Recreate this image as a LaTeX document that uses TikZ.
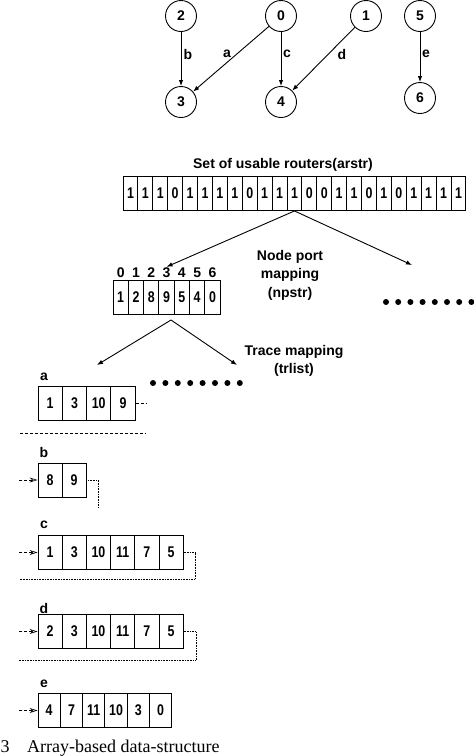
\documentclass[tikz,border=0pt]{standalone}
\usepackage{fontspec}
\setmainfont{Liberation Sans}
\newfontfamily\capfont{Liberation Serif}
\newfontfamily\cellfont{Liberation Sans}[FakeStretch=0.8]
\usetikzlibrary{arrows.meta}

\tikzset{
  cell/.style={draw, line width=0.9pt, inner sep=0pt, minimum height=34pt,
    font=\cellfont\bfseries\fontsize{15.5}{18.5}\selectfont},
  vtx/.style={draw, circle, line width=0.9pt, minimum size=31pt, inner sep=0pt,
    font=\bfseries\fontsize{14}{18.5}\selectfont},
  lbl/.style={inner sep=1pt, font=\bfseries\fontsize{14}{18.5}\selectfont},
  edge/.style={->, line width=0.9pt},
  ptr/.style={densely dashed, line width=0.6pt, -{Stealth[open, length=8pt, width=5pt]}},
  link/.style={densely dotted, line width=0.6pt},
}
\newcommand{\cellrow}[5]{%
  \foreach \v [count=\i] in {#5}
    \node[cell, minimum width=#4pt] (#1\i) at ({#2+(\i-0.5)*#4}, #3) {\v};}

\begin{document}
\begin{tikzpicture}[x=1pt, y=-1pt, >={Latex[length=6pt, width=4.5pt]}]
    \useasboundingbox (0,0) rectangle (474,756);
    % trace graph
    \node[vtx] (v2) at (181,16) {2};
    \node[vtx] (v0) at (281,16) {0};
    \node[vtx] (v1) at (366,16) {1};
    \node[vtx] (v5) at (420,16) {5};
    \node[vtx] (v3) at (181,102) {3};
    \node[vtx] (v4) at (281,102) {4};
    \node[vtx] (v6) at (420,98) {6};
    \draw[edge] (v0) -- (v3);
    \draw[edge] (v2) -- (v3);
    \draw[edge] (v0) -- (v4);
    \draw[edge] (v1) -- (v4);
    \draw[edge] (v5) -- (v6);
    \node[lbl] (ea) at (227,54) {a};
    \node[lbl] (eb) at (188,54) {b};
    \node[lbl] (ec) at (287,54) {c};
    \node[lbl] (ed) at (342,54) {d};
    \node[lbl] (ee) at (426,54) {e};
    % arstr
    \node[lbl] (title) at (283,165) {Set of usable routers(arstr)};
    \cellrow{ar}{123}{193.5}{14.91}{1,1,1,0,1,1,1,1,0,1,1,1,0,0,1,1,0,1,0,1,1,1,1}
    % npstr
    \foreach \k [count=\i] in {0,...,6}
      \node[lbl] (i\i) at ({113+(\i-0.5)*15.3},273) {\k};
    \cellrow{np}{113}{297}{15.3}{1,2,8,9,5,4,0}
    \node[lbl, align=center] (nplbl) at (290,275) {Node port\\mapping\\(npstr)};
    \coordinate (more1) at (412,265);
    \draw[edge] (ar12.south) -- (i4.north);
    \draw[edge] (ar12.south) -- (more1);
    \foreach \k in {0,...,7}
      \fill (386+\k*12.2,302) circle (3pt);
    % trlist
    \coordinate (npfork) at (171,320);
    \coordinate (trpick) at (97,365);
    \coordinate (trmore) at (237,365);
    \draw[edge] (npfork) -- (trpick);
    \draw[edge] (npfork) -- (trmore);
    \node[lbl, align=center] (trlbl) at (294,361) {Trace mapping\\(trlist)};
    \foreach \k in {0,...,7}
      \fill (153+\k*12.4,383) circle (3pt);
    % trace a
    \node[lbl] (ta) at (44,377) {a};
    \cellrow{a}{38}{403.5}{24.3}{1,3,10,9}
    \coordinate (aend) at (147,403.5);
    \draw[densely dashed, line width=0.6pt] (a4.east) -- (aend);
    \coordinate (ret1) at (20,433);
    \coordinate (ret2) at (146,433);
    \draw[densely dashed, line width=0.6pt] (ret1) -- (ret2);
    % trace b
    \node[lbl] (tb) at (44,452) {b};
    \cellrow{b}{38}{480}{24}{8,9}
    \coordinate (bin) at (19,480);
    \coordinate (bout) at (98,507);
    \draw[ptr] (bin) -- (b1.west);
    \draw[link] (b2.east) -| (bout);
    % trace c
    \node[lbl] (tc) at (44,525) {c};
    \cellrow{c}{38}{552.5}{24.2}{1,3,10,11,7,5}
    \coordinate (cin) at (19,552.5);
    \coordinate (cturn) at (195,579);
    \coordinate (cback) at (20,579);
    \draw[ptr] (cin) -- (c1.west);
    \draw[link] (c6.east) -| (cturn) -- (cback);
    % trace d
    \node[lbl] (td) at (44,608) {d};
    \cellrow{d}{38}{631.5}{24.2}{2,3,10,11,7,5}
    \coordinate (din) at (19,631.5);
    \coordinate (dturn) at (196,660);
    \coordinate (dback) at (19,660);
    \draw[ptr] (din) -- (d1.west);
    \draw[link] (d6.east) -| (dturn) -- (dback);
    % trace e
    \node[lbl] (te) at (44,684) {e};
    \cellrow{e}{38}{710.5}{22.3}{4,7,11,10,3,0}
    \coordinate (ein) at (19,710.5);
    \draw[ptr] (ein) -- (e1.west);
    % caption
    \node[anchor=base west, inner sep=0pt, font=\capfont\fontsize{18}{20}\selectfont] (fignum) at (0.5,752) {3};
    \node[anchor=base west, inner sep=0pt, font=\capfont\fontsize{18}{20}\selectfont] (caption) at (27,752) {Array-based data-structure};
\end{tikzpicture}
\end{document}
